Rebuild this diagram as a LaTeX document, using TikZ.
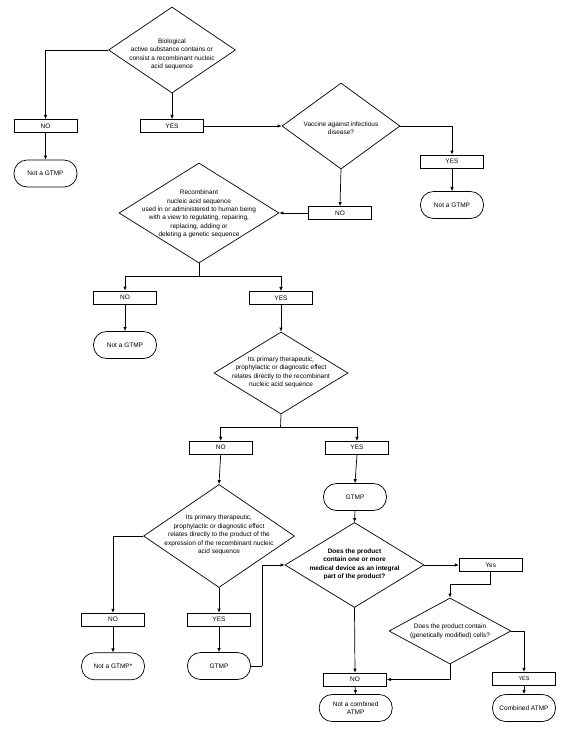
\documentclass[tikz,border=0pt]{standalone}
\usepackage{fontspec}
\setmainfont{Liberation Sans}
\usetikzlibrary{shapes.geometric,arrows.meta}
\begin{document}
\begin{tikzpicture}[x=1pt,y=-1pt,
  every node/.style={font=\fontsize{6.5}{8.4}\selectfont},
  dia/.style={draw,diamond,inner sep=0pt,line width=0.7pt},
  dtext/.style={align=center,inner sep=0pt},
  lbox/.style={draw,rectangle,minimum width=63pt,minimum height=13pt,inner sep=0pt,line width=0.7pt},
  rbox/.style={draw,rectangle,rounded corners=13pt,minimum width=63pt,minimum height=27pt,inner sep=0pt,align=center,line width=0.7pt},
  conn/.style={line width=0.7pt},
  arr/.style={line width=0.7pt,-{Latex[length=4pt,width=3.5pt]}}]
\useasboundingbox[fill=white] (0,0) rectangle (568,732);

% diamonds
\node[dia,minimum width=127pt,minimum height=86pt] (d1) at (172,50) {};
\node[dtext] (t1) at (172,54.5) {Biological\\active substance contains or\\consist a recombinant nucleic\\acid sequence};
\node[dia,minimum width=118pt,minimum height=86pt] (d2) at (341,126) {};
\node[dtext] (t2) at (341,128) {Vaccine against infectious\\disease?};
\node[dia,minimum width=160pt,minimum height=100pt] (d3) at (199,213) {};
\node[dtext] (t3) at (199,214) {Recombinant\\nucleic acid sequence\\used in or administered to human being\\with a view to regulating, repairing,\\replacing, adding or\\deleting a genetic sequence};
\node[dia,minimum width=134pt,minimum height=82pt] (d4) at (281,373) {};
\node[dtext] (t4) at (281,372.5) {Its primary therapeutic,\\prophylactic or diagnostic effect\\relates directly to the recombinant\\nucleic acid sequence};
\node[dia,minimum width=151pt,minimum height=103pt] (d5) at (219,536) {};
\node[dtext] (t5) at (219,535) {Its primary therapeutic,\\prophylactic or diagnostic effect\\relates directly to the product of the\\expression of the recombinant nucleic\\acid sequence};
\node[dia,minimum width=139pt,minimum height=85pt] (d6) at (354.5,565) {};
\node[dtext,font=\fontsize{6.5}{8.4}\selectfont\bfseries] (t6) at (354.5,564.5) {Does the product\\contain one or more\\medical device as an integral\\part of the product?};
\node[dia,minimum width=122pt,minimum height=66pt] (d7) at (450,631) {};
\node[dtext] (t7) at (450,631.5) {Does the product contain\\(genetically modified) cells?};

% boxes
\node[lbox] (no1) at (45.5,126) {NO};
\node[lbox] (yes1) at (172,126) {YES};
\node[rbox] (ng1) at (45.5,173.5) {Not a GTMP};
\node[lbox] (yes2) at (452,161.5) {YES};
\node[rbox] (ng2) at (452,205) {Not a GTMP};
\node[lbox] (no2) at (340,213) {NO};
\node[lbox] (no3) at (125,297.5) {NO};
\node[lbox] (yes3) at (281,298) {YES};
\node[rbox] (ng3) at (125,345) {Not a GTMP};
\node[lbox] (no4) at (220.7,447.7) {NO};
\node[lbox] (yes4) at (357,447.7) {YES};
\node[rbox] (g1) at (355,497) {GTMP};
\node[lbox] (no5) at (113,619.7) {NO};
\node[lbox] (yes5) at (219,619.5) {YES};
\node[rbox] (ng5) at (113,666.3) {Not a GTMP*};
\node[rbox] (g2) at (219,666) {GTMP};
\node[lbox] (yes6) at (490.7,565) {Yes};
\node[lbox,font=\fontsize{5.5}{7}\selectfont] (yes7) at (524,678.7) {YES};
\node[lbox] (no7) at (355,679.5) {NO};
\node[rbox,minimum width=73pt] (nca) at (355.7,708) {Not a combined\\ATMP};
\node[rbox] (ca) at (524,708) {Combined ATMP};

% junctions
\coordinate (j3) at (199,276);
\coordinate (j4) at (280.5,427.3);
\coordinate (jg) at (262.3,666);
\coordinate (j6) at (490.7,584.3);

% connectors
\draw[arr] (d1.west) -| (no1.north);
\draw[arr] (d1.south) -- (yes1.north);
\draw[arr] (no1.south) -- (ng1.north);
\draw[arr] (yes1.east) -- (d2.west);
\draw[arr] (d2.east) -| (yes2.north);
\draw[arr] (yes2.south) -- (ng2.north);
\draw[arr] (d2.south) -- (no2.north);
\draw[arr] (no2.west) -- (d3.east);
\draw[conn] (d3.south) -- (j3);
\draw[arr] (j3) -| (no3.north);
\draw[arr] (j3) -| (yes3.north);
\draw[arr] (no3.south) -- (ng3.north);
\draw[arr] (yes3.south) -- (d4.north);
\draw[conn] (d4.south) -- (j4);
\draw[arr] (j4) -| (no4.north);
\draw[arr] (j4) -| (yes4.north);
\draw[arr] (yes4.south) -- (g1.north);
\draw[arr] (no4.south) -- (d5.north);
\draw[arr] (g1.south) -- (d6.north);
\draw[arr] (d5.west) -| (no5.north);
\draw[arr] (d5.south) -- (yes5.north);
\draw[arr] (no5.south) -- (ng5.north);
\draw[arr] (yes5.south) -- (g2.north);
\draw[conn] (g2.east) -- (jg);
\draw[arr] (jg) |- (d6.west);
\draw[arr] (d6.east) -- (yes6.west);
\draw[conn] (yes6.south) -- (j6);
\draw[arr] (j6) -| (d7.north);
\draw[arr] (d7.east) -| (yes7.north);
\draw[arr] (d7.south) |- (no7.east);
\draw[arr] (d6.south) -- (no7.north);
\draw[arr] (no7.south) -- (nca.north);
\draw[arr] (yes7.south) -- (ca.north);
\end{tikzpicture}
\end{document}
